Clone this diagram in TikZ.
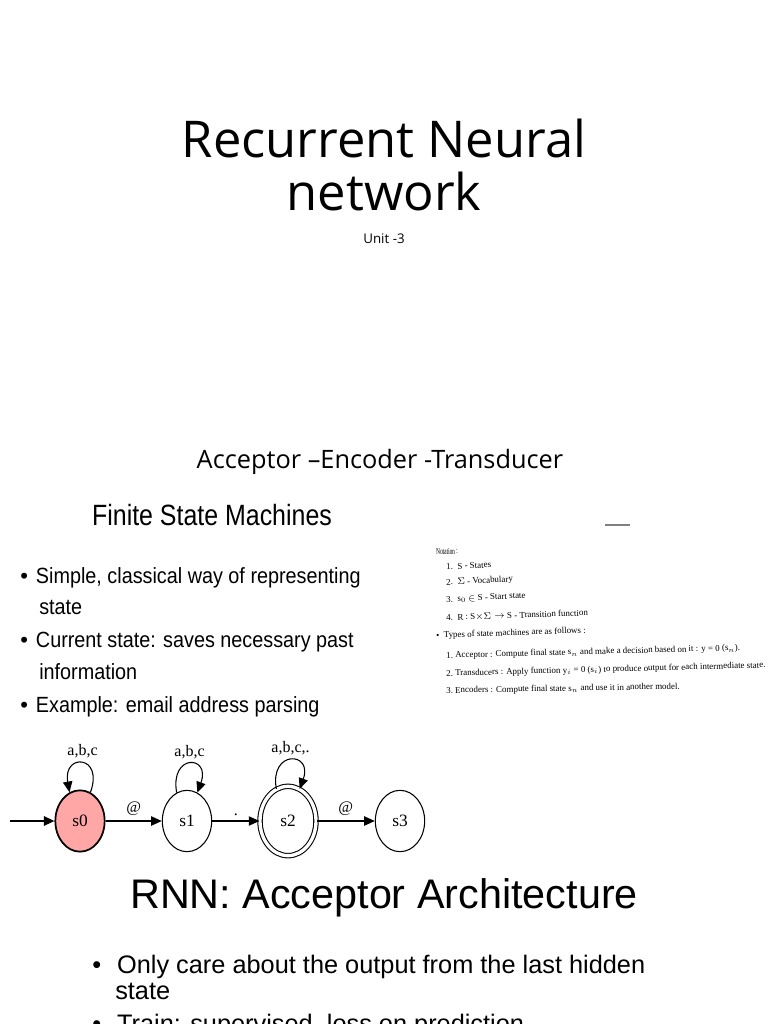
\documentclass[tikz,border=0pt]{standalone}
\usepackage{fontspec}
\setmainfont{Open Sans}
\newfontfamily\arialn{Liberation Sans}
\newfontfamily\tms{Liberation Serif}
\usetikzlibrary{arrows.meta,shapes.geometric}
\begin{document}
\begin{tikzpicture}[x=0.75pt,y=-0.75pt,
  st/.style={draw,ellipse,inner sep=0pt,line width=0.8pt,minimum width=37pt,minimum height=46pt,font=\tms\fontsize{13}{13}\selectfont},
  tr/.style={-{Triangle[length=8pt,width=7pt]},line width=0.8pt},
  lab/.style={font=\tms\fontsize{12}{12}\selectfont},
  nl/.style={anchor=west,font=\tms\fontsize{6.7}{8}\selectfont,inner sep=0pt}]
\useasboundingbox (0,0) rectangle (768,1024);
\fill[white] (0,0) rectangle (768,1024);
\node (title) at (384,165) [align=center,font=\fontsize{38}{40}\selectfont] {Recurrent Neural\\network};
\node (unit) at (384,239) [font=\fontsize{10}{12}\selectfont] {Unit -3};
\node (aet) at (380,462) [font=\fontsize{19}{22}\selectfont] {Acceptor –Encoder -Transducer};
% slide image
\node (fsm) at (212,515) [font=\arialn\fontsize{22}{24}\selectfont] {\scalebox{0.85}[1]{Finite State Machines}};
\begin{scope}[every node/.style={anchor=west,font=\arialn\fontsize{16.5}{18}\selectfont,inner sep=0pt}]
\node (b1) at (20,578) {•\hspace{6pt}\scalebox{0.9}[1]{Simple, classical way of representing}};
\node (b1b) at (39,607) {\scalebox{0.9}[1]{state}};
\node (b2) at (20,642) {•\hspace{6pt}\scalebox{0.9}[1]{Current state: saves necessary past}};
\node (b2b) at (39,672) {\scalebox{0.9}[1]{information}};
\node (b3) at (20,707) {•\hspace{6pt}\scalebox{0.9}[1]{Example: email address parsing}};
\end{scope}
% FSM
\node[st,fill=red!35!white,line width=1.3pt] (s0) at (80,821) {s0};
\node[st] (s1) at (187,821) {s1};
\node[st,minimum width=42pt,minimum height=52pt,double,double distance=2.5pt] (s2) at (288,821) {s2};
\node[st] (s3) at (400,821) {s3};
\coordinate (start) at (10,821);
\draw[tr,line width=1.6pt] (start) -- (s0);
\draw[tr] (s0) -- node[lab,above] {@} (s1);
\draw[tr] (s1) -- node[lab,above] {.} (s2);
\draw[tr] (s2) -- node[lab,above] {@} (s3);
\draw[tr] (s0.70) .. controls +(-70:40) and +(-100:40) .. node[lab,above] {a,b,c} (s0.110);
\draw[tr] (s1.110) .. controls +(-100:40) and +(-70:40) .. node[lab,above] {a,b,c} (s1.70);
\draw[tr] (s2.110) .. controls +(-100:40) and +(-70:40) .. node[lab,above] {a,b,c,.} (s2.70);
% notation block
\begin{scope}
\node[nl,rotate=3] (n0) at (436,552) {\scalebox{0.6}[1]{Notation :}};
\node[nl,rotate=3] (n1) at (446,567) {1.\ \ S - States};
\node[nl,rotate=3] (n2) at (446,583) {2.\ \ $\Sigma$ - Vocabulary};
\node[nl,rotate=3] (n3) at (446,600) {3.\ \ s$_0$ $\in$ S - Start state};
\node[nl,rotate=2] (n4) at (446,618) {4.\ \ R : S$\times\Sigma\rightarrow$ S - Transition function};
\node[nl,rotate=2] (n5) at (436,636) {•\ \ Types of state machines are as follows :};
\node[nl,rotate=1.5] (n6) at (446,656) {1.\ Acceptor : Compute final state s$_n$ and make a decision based on it : y = 0 (s$_n$).};
\node[nl,rotate=1.5] (n7) at (446,674) {2.\ Transducers : Apply function y$_i$ = 0 (s$_i$) to produce output for each intermediate state.};
\node[nl,rotate=1] (n8) at (446,691) {3.\ Encoders : Compute final state s$_n$ and use it in another model.};
\end{scope}
\draw[line width=0.8pt,gray] (605,525) -- (630,525);
% lower slide
\node (rnn) at (384,898) [font=\arialn\fontsize{31}{33}\selectfont] {RNN: Acceptor Architecture};
\begin{scope}[every node/.style={anchor=west,font=\arialn\fontsize{19}{20}\selectfont,inner sep=0pt}]
\node (c1) at (92,967) {•\hspace{12pt}Only care about the output from the last hidden};
\node (c1b) at (115,991) {state};
\node (c2) at (92,1026) {•\hspace{12pt}Train: supervised, loss on prediction};
\end{scope}
\end{tikzpicture}
\end{document}
